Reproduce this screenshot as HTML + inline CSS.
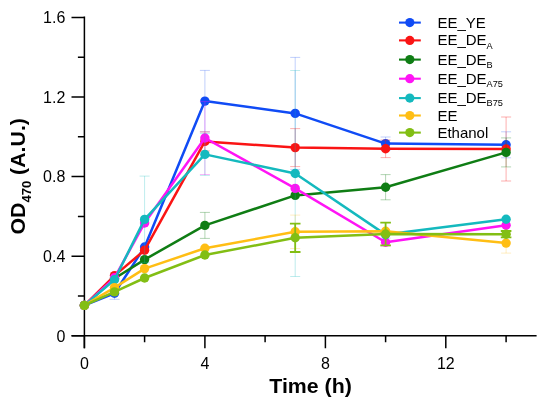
<!DOCTYPE html>
<html><head><meta charset="utf-8"><title>OD470 growth curves</title>
<style>
html,body{margin:0;padding:0;background:#fff;}
body{width:550px;height:405px;overflow:hidden;}
svg{display:block;font-family:"Liberation Sans",Arial,sans-serif;}
.tl{font-size:16px;fill:#000;}
.lg{font-size:15px;fill:#000;}
.ax{font-size:20.5px;font-weight:bold;fill:#000;}
</style></head><body>
<svg width="550" height="405" viewBox="0 0 550 405">
<rect width="550" height="405" fill="#fff"/>
<g>
<path d="M84.4 16.6V348.2" stroke="#000" stroke-width="1.5" fill="none"/>
<path d="M71.6 335.8H536.6" stroke="#000" stroke-width="1.5" fill="none"/>
<path d="M71.5 335.8H84.4M77.9 296.0H84.4M71.5 256.2H84.4M77.9 216.4H84.4M71.5 176.6H84.4M77.9 136.8H84.4M71.5 97.0H84.4M77.9 57.2H84.4M71.5 17.4H84.4" stroke="#000" stroke-width="1.5" fill="none"/>
<path d="M84.4 335.8V348.2M144.6 335.8V342.2M204.9 335.8V348.2M265.1 335.8V342.2M325.4 335.8V348.2M385.6 335.8V342.2M445.8 335.8V348.2M506.1 335.8V342.2" stroke="#000" stroke-width="1.5" fill="none"/>
<text class="tl" x="65.3" y="341.5" text-anchor="end">0</text>
<text class="tl" x="65.3" y="261.9" text-anchor="end">0.4</text>
<text class="tl" x="65.3" y="182.3" text-anchor="end">0.8</text>
<text class="tl" x="65.3" y="102.7" text-anchor="end">1.2</text>
<text class="tl" x="65.3" y="23.1" text-anchor="end">1.6</text>
<text class="tl" x="84.4" y="369.0" text-anchor="middle">0</text>
<text class="tl" x="204.9" y="369.0" text-anchor="middle">4</text>
<text class="tl" x="325.4" y="369.0" text-anchor="middle">8</text>
<text class="tl" x="445.8" y="369.0" text-anchor="middle">12</text>
<text class="ax" transform="translate(310.5,392.5) scale(1.04,1)" text-anchor="middle">Time (h)</text>
<text class="ax" transform="translate(25,234.5) rotate(-90) scale(1.04,1)">OD<tspan font-size="12.5" dy="6">470</tspan><tspan dy="-6"> (A.U.)</tspan></text>
</g>
<g>
<path d="M114.5 287.3V299.3M109.5 287.3h10M109.5 299.3h10" stroke="#104bf5" stroke-width="1" stroke-opacity="0.26" fill="none"/>
<path d="M204.9 70.4V131.8M199.9 70.4h10M199.9 131.8h10" stroke="#104bf5" stroke-width="1" stroke-opacity="0.26" fill="none"/>
<path d="M295.2 57.4V169.4M290.2 57.4h10M290.2 169.4h10" stroke="#104bf5" stroke-width="1" stroke-opacity="0.26" fill="none"/>
<path d="M385.6 137.0V150.2M380.6 137.0h10M380.6 150.2h10" stroke="#104bf5" stroke-width="1" stroke-opacity="0.26" fill="none"/>
<path d="M506.1 131.8V157.8M501.1 131.8h10M501.1 157.8h10" stroke="#104bf5" stroke-width="1" stroke-opacity="0.26" fill="none"/>
<polyline points="84.4,305.4 114.5,293.3 144.6,247.0 204.9,101.1 295.2,113.4 385.6,143.6 506.1,144.8" fill="none" stroke="#104bf5" stroke-width="2.5" stroke-linejoin="round"/>
<circle cx="84.4" cy="305.4" r="4.7" fill="#104bf5"/>
<circle cx="114.5" cy="293.3" r="4.7" fill="#104bf5"/>
<circle cx="144.6" cy="247.0" r="4.7" fill="#104bf5"/>
<circle cx="204.9" cy="101.1" r="4.7" fill="#104bf5"/>
<circle cx="295.2" cy="113.4" r="4.7" fill="#104bf5"/>
<circle cx="385.6" cy="143.6" r="4.7" fill="#104bf5"/>
<circle cx="506.1" cy="144.8" r="4.7" fill="#104bf5"/>
</g>
<g>
<path d="M204.9 131.9V150.9M199.9 131.9h10M199.9 150.9h10" stroke="#fa1414" stroke-width="1" stroke-opacity="0.34" fill="none"/>
<path d="M295.2 128.6V166.6M290.2 128.6h10M290.2 166.6h10" stroke="#fa1414" stroke-width="1" stroke-opacity="0.34" fill="none"/>
<path d="M385.6 140.0V157.6M380.6 140.0h10M380.6 157.6h10" stroke="#fa1414" stroke-width="1" stroke-opacity="0.34" fill="none"/>
<path d="M506.1 117.0V181.0M501.1 117.0h10M501.1 181.0h10" stroke="#fa1414" stroke-width="1" stroke-opacity="0.34" fill="none"/>
<polyline points="84.4,305.4 114.5,275.6 144.6,250.2 204.9,141.4 295.2,147.6 385.6,148.8 506.1,149.0" fill="none" stroke="#fa1414" stroke-width="2.5" stroke-linejoin="round"/>
<circle cx="84.4" cy="305.4" r="4.7" fill="#fa1414"/>
<circle cx="114.5" cy="275.6" r="4.7" fill="#fa1414"/>
<circle cx="144.6" cy="250.2" r="4.7" fill="#fa1414"/>
<circle cx="204.9" cy="141.4" r="4.7" fill="#fa1414"/>
<circle cx="295.2" cy="147.6" r="4.7" fill="#fa1414"/>
<circle cx="385.6" cy="148.8" r="4.7" fill="#fa1414"/>
<circle cx="506.1" cy="149.0" r="4.7" fill="#fa1414"/>
</g>
<g>
<path d="M204.9 212.4V238.4M199.9 212.4h10M199.9 238.4h10" stroke="#0f7d14" stroke-width="1" stroke-opacity="0.32" fill="none"/>
<path d="M385.6 174.6V199.8M380.6 174.6h10M380.6 199.8h10" stroke="#0f7d14" stroke-width="1" stroke-opacity="0.32" fill="none"/>
<path d="M506.1 137.9V166.9M501.1 137.9h10M501.1 166.9h10" stroke="#0f7d14" stroke-width="1" stroke-opacity="0.32" fill="none"/>
<polyline points="84.4,305.4 114.5,278.5 144.6,259.6 204.9,225.4 295.2,195.4 385.6,187.2 506.1,152.4" fill="none" stroke="#0f7d14" stroke-width="2.5" stroke-linejoin="round"/>
<circle cx="84.4" cy="305.4" r="4.7" fill="#0f7d14"/>
<circle cx="114.5" cy="278.5" r="4.7" fill="#0f7d14"/>
<circle cx="144.6" cy="259.6" r="4.7" fill="#0f7d14"/>
<circle cx="204.9" cy="225.4" r="4.7" fill="#0f7d14"/>
<circle cx="295.2" cy="195.4" r="4.7" fill="#0f7d14"/>
<circle cx="385.6" cy="187.2" r="4.7" fill="#0f7d14"/>
<circle cx="506.1" cy="152.4" r="4.7" fill="#0f7d14"/>
</g>
<g>
<path d="M204.9 101.5V174.5M199.9 101.5h10M199.9 174.5h10" stroke="#ff14f5" stroke-width="1" stroke-opacity="0.3" fill="none"/>
<path d="M385.6 238.2V246.2M380.6 238.2h10M380.6 246.2h10" stroke="#ff14f5" stroke-width="1" stroke-opacity="0.3" fill="none"/>
<polyline points="84.4,305.4 114.5,277.8 144.6,223.0 204.9,138.0 295.2,188.4 385.6,242.2 506.1,225.2" fill="none" stroke="#ff14f5" stroke-width="2.5" stroke-linejoin="round"/>
<circle cx="84.4" cy="305.4" r="4.7" fill="#ff14f5"/>
<circle cx="114.5" cy="277.8" r="4.7" fill="#ff14f5"/>
<circle cx="144.6" cy="223.0" r="4.7" fill="#ff14f5"/>
<circle cx="204.9" cy="138.0" r="4.7" fill="#ff14f5"/>
<circle cx="295.2" cy="188.4" r="4.7" fill="#ff14f5"/>
<circle cx="385.6" cy="242.2" r="4.7" fill="#ff14f5"/>
<circle cx="506.1" cy="225.2" r="4.7" fill="#ff14f5"/>
</g>
<g>
<path d="M144.6 176.1V262.7M139.6 176.1h10M139.6 262.7h10" stroke="#14b9be" stroke-width="1" stroke-opacity="0.28" fill="none"/>
<path d="M204.9 133.4V175.4M199.9 133.4h10M199.9 175.4h10" stroke="#14b9be" stroke-width="1" stroke-opacity="0.28" fill="none"/>
<path d="M295.2 70.5V276.5M290.2 70.5h10M290.2 276.5h10" stroke="#14b9be" stroke-width="1" stroke-opacity="0.28" fill="none"/>
<polyline points="84.4,305.4 114.5,279.8 144.6,219.4 204.9,154.4 295.2,173.5 385.6,234.6 506.1,219.2" fill="none" stroke="#14b9be" stroke-width="2.5" stroke-linejoin="round"/>
<circle cx="84.4" cy="305.4" r="4.7" fill="#14b9be"/>
<circle cx="114.5" cy="279.8" r="4.7" fill="#14b9be"/>
<circle cx="144.6" cy="219.4" r="4.7" fill="#14b9be"/>
<circle cx="204.9" cy="154.4" r="4.7" fill="#14b9be"/>
<circle cx="295.2" cy="173.5" r="4.7" fill="#14b9be"/>
<circle cx="385.6" cy="234.6" r="4.7" fill="#14b9be"/>
<circle cx="506.1" cy="219.2" r="4.7" fill="#14b9be"/>
</g>
<g>
<path d="M295.2 215.1V248.5M290.2 215.1h10M290.2 248.5h10" stroke="#ffbe14" stroke-width="1" stroke-opacity="0.25" fill="none"/>
<path d="M506.1 233.1V253.1M501.1 233.1h10M501.1 253.1h10" stroke="#ffbe14" stroke-width="1" stroke-opacity="0.25" fill="none"/>
<polyline points="84.4,305.4 114.5,287.6 144.6,268.6 204.9,248.3 295.2,231.8 385.6,231.3 506.1,243.1" fill="none" stroke="#ffbe14" stroke-width="2.5" stroke-linejoin="round"/>
<circle cx="84.4" cy="305.4" r="4.7" fill="#ffbe14"/>
<circle cx="114.5" cy="287.6" r="4.7" fill="#ffbe14"/>
<circle cx="144.6" cy="268.6" r="4.7" fill="#ffbe14"/>
<circle cx="204.9" cy="248.3" r="4.7" fill="#ffbe14"/>
<circle cx="295.2" cy="231.8" r="4.7" fill="#ffbe14"/>
<circle cx="385.6" cy="231.3" r="4.7" fill="#ffbe14"/>
<circle cx="506.1" cy="243.1" r="4.7" fill="#ffbe14"/>
</g>
<g>
<path d="M295.2 223.6V252.0M289.9 223.6h10.6M289.9 252.0h10.6" stroke="#82be14" stroke-width="1.8" stroke-opacity="1" fill="none"/>
<path d="M385.6 222.7V245.3M380.3 222.7h10.6M380.3 245.3h10.6" stroke="#82be14" stroke-width="1.8" stroke-opacity="1" fill="none"/>
<path d="M506.1 231.0V237.4M500.8 231.0h10.6M500.8 237.4h10.6" stroke="#82be14" stroke-width="1.8" stroke-opacity="1" fill="none"/>
<polyline points="84.4,305.4 114.5,291.9 144.6,278.0 204.9,255.0 295.2,237.8 385.6,234.0 506.1,234.2" fill="none" stroke="#82be14" stroke-width="2.5" stroke-linejoin="round"/>
<circle cx="84.4" cy="305.4" r="4.7" fill="#82be14"/>
<circle cx="114.5" cy="291.9" r="4.7" fill="#82be14"/>
<circle cx="144.6" cy="278.0" r="4.7" fill="#82be14"/>
<circle cx="204.9" cy="255.0" r="4.7" fill="#82be14"/>
<circle cx="295.2" cy="237.8" r="4.7" fill="#82be14"/>
<circle cx="385.6" cy="234.0" r="4.7" fill="#82be14"/>
<circle cx="506.1" cy="234.2" r="4.7" fill="#82be14"/>
</g>
<g>
<path d="M399 22.6H420.8" stroke="#104bf5" stroke-width="2.1" fill="none"/><circle cx="409.8" cy="22.6" r="4.6" fill="#104bf5"/>
<text class="lg" x="437.4" y="27.6">EE_YE</text>
<path d="M399 40.4H420.8" stroke="#fa1414" stroke-width="2.1" fill="none"/><circle cx="409.8" cy="40.4" r="4.6" fill="#fa1414"/>
<text class="lg" x="437.4" y="45.4">EE_DE<tspan font-size="9.2" dy="3.3">A</tspan></text>
<path d="M399 59.6H420.8" stroke="#0f7d14" stroke-width="2.1" fill="none"/><circle cx="409.8" cy="59.6" r="4.6" fill="#0f7d14"/>
<text class="lg" x="437.4" y="64.6">EE_DE<tspan font-size="9.2" dy="3.3">B</tspan></text>
<path d="M399 78.7H420.8" stroke="#ff14f5" stroke-width="2.1" fill="none"/><circle cx="409.8" cy="78.7" r="4.6" fill="#ff14f5"/>
<text class="lg" x="437.4" y="83.7">EE_DE<tspan font-size="9.2" dy="3.3">A75</tspan></text>
<path d="M399 98.1H420.8" stroke="#14b9be" stroke-width="2.1" fill="none"/><circle cx="409.8" cy="98.1" r="4.6" fill="#14b9be"/>
<text class="lg" x="437.4" y="103.1">EE_DE<tspan font-size="9.2" dy="3.3">B75</tspan></text>
<path d="M399 115.5H420.8" stroke="#ffbe14" stroke-width="2.1" fill="none"/><circle cx="409.8" cy="115.5" r="4.6" fill="#ffbe14"/>
<text class="lg" x="437.4" y="120.5">EE</text>
<path d="M399 132.6H420.8" stroke="#82be14" stroke-width="2.1" fill="none"/><circle cx="409.8" cy="132.6" r="4.6" fill="#82be14"/>
<text class="lg" x="437.4" y="137.6">Ethanol</text>
</g>
</svg>
</body></html>
